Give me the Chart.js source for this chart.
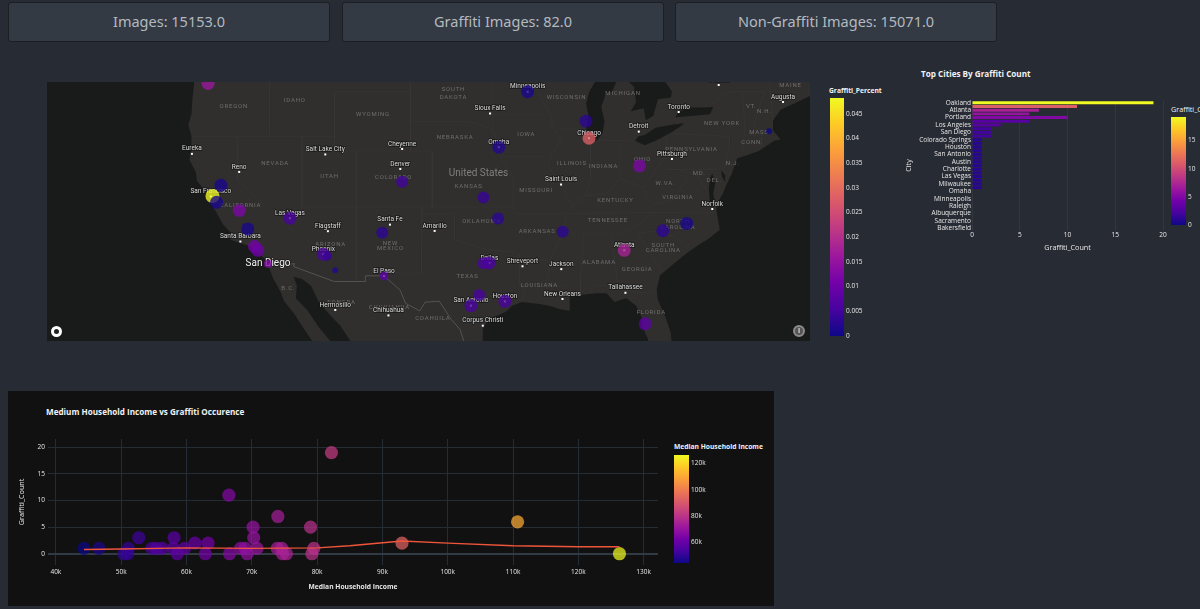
<!DOCTYPE html>
<html>
<head>
<meta charset="utf-8">
<script src="https://cdn.jsdelivr.net/npm/chart.js@4/dist/chart.umd.min.js"></script>
<style>
  html, body { margin: 0; height: 100%; overflow: hidden; background: #272b34; }
  body { position: relative; width: 1200px; height: 609px; font-family: "Open Sans", sans-serif; }
  canvas { position: absolute; display: block; }
  .card { position: absolute; top: 2px; height: 38px; background: #333a44; border: 1px solid #1b1e23; border-radius: 3px; box-sizing: content-box; color: #b4b9c0; font: 14.5px/37px "Noto Sans", sans-serif; text-align: center; }
  .title { position: absolute; color: #f2f2f2; font-weight: 700; font-size: 8.15px; white-space: nowrap; line-height: 12px; }
  .small { font-size: 6.7px; }
  .panel { position: absolute; left: 8px; top: 391px; width: 766px; height: 215px; background: #111111; }
  .logo { position: absolute; left: 51px; top: 326px; width: 5px; height: 5px; border: 3px solid #fff; border-radius: 50%; background: #222; }
  .info { position: absolute; left: 793px; top: 325px; width: 8px; height: 8px; border: 2px solid #8c8c8c; border-radius: 50%; background: #555; color: #ddd; font: 700 7px/8px "Open Sans", sans-serif; text-align: center; }
</style>
</head>
<body>
  <div class="card" style="left:8px;width:320px">Images: 15153.0</div>
  <div class="card" style="left:342px;width:320px">Graffiti Images: 82.0</div>
  <div class="card" style="left:675px;width:320px">Non-Graffiti Images: 15071.0</div>

  <canvas id="map" style="left:47px;top:82px" width="763" height="259"></canvas>
  <div class="logo"></div>
  <div class="info">i</div>
  <div class="title small" style="left:829px;top:85px">Graffiti_Percent</div>
  <canvas id="mapScale" style="left:830px;top:92px" width="70" height="252"></canvas>

  <div class="title" style="left:921px;top:68px">Top Cities By Graffiti Count</div>
  <canvas id="bars" style="left:900px;top:92px" width="270" height="165"></canvas>
  <div class="title small" style="left:1171px;top:103px;font-weight:400;font-size:7.2px">Graffiti_Count</div>
  <canvas id="barScale" style="left:1171px;top:111px" width="29" height="120"></canvas>

  <div class="panel"></div>
  <div class="title" style="left:46px;top:406px">Medium Household Income vs Graffiti Occurence</div>
  <canvas id="scatter" style="left:8px;top:430px" width="660" height="165"></canvas>
  <div class="title small" style="left:674px;top:441px">Median Household Income</div>
  <canvas id="incomeScale" style="left:674px;top:449px" width="60" height="120"></canvas>

<script>
// ---- data ----
const cityNames = ['Portland', 'Sacramento', 'Oakland', 'San Jose', 'Fresno', 'Bakersfield', 'Los Angeles', 'Long Beach', 'San Diego', 'Las Vegas', 'Phoenix', 'Mesa', 'Tucson', 'Albuquerque', 'El Paso', 'Colorado Springs', 'Omaha', 'Minneapolis', 'Milwaukee', 'Chicago', 'Columbus', 'Boston', 'Wichita', 'Tulsa', 'Memphis', 'Atlanta', 'Charlotte', 'Raleigh', 'Fort Worth', 'Dallas', 'Austin', 'San Antonio', 'Houston', 'Tampa'];
const cityLon = [-122.67, -121.49, -122.27, -121.89, -119.79, -119.02, -118.4, -118.1, -117.16, -115.14, -112.07, -111.7, -110.97, -106.65, -106.49, -104.82, -95.93, -93.27, -87.91, -87.63, -82.99, -71.06, -97.34, -95.99, -90.05, -84.39, -80.84, -78.64, -97.33, -96.8, -97.74, -98.49, -95.37, -82.46];
const cityLat = [45.52, 38.58, 37.8, 37.34, 36.74, 35.37, 34.05, 33.75, 32.72, 36.17, 33.45, 33.3, 32.22, 35.08, 31.76, 38.83, 41.26, 44.98, 43.04, 41.88, 39.96, 42.36, 37.69, 36.15, 35.15, 33.75, 35.23, 35.78, 32.75, 32.78, 30.27, 29.42, 29.76, 27.95];
const cityPercent = [0.016, 0.001, 0.048, 0.001, 0.012, 0.001, 0.011, 0.01, 0.013, 0.006, 0.006, 0.004, 0.002, 0.003, 0.008, 0.005, 0.002, 0.001, 0.003, 0.028, 0.012, 0, 0.004, 0.003, 0.003, 0.018, 0.003, 0.001, 0.006, 0.006, 0.006, 0.006, 0.006, 0.008];
const citySize = [42, 42, 49, 42, 42, 42, 42, 42, 16, 42, 42, 20, 9, 36, 20, 36, 42, 42, 42, 42, 42, 9, 36, 36, 36, 42, 42, 42, 36, 42, 36, 42, 42, 42];
const percentTicks = [0, 0.005, 0.01, 0.015, 0.02, 0.025, 0.03, 0.035, 0.04, 0.045];

const barCities = ['Oakland', 'Chicago', 'Atlanta', 'Columbus', 'Portland', 'Long Beach', 'Los Angeles', 'Fresno', 'San Diego', 'Fort Worth', 'Colorado Springs', 'Phoenix', 'Houston', 'Dallas', 'San Antonio', 'Tampa', 'Austin', 'Memphis', 'Charlotte', 'Tulsa', 'Las Vegas', 'El Paso', 'Milwaukee', 'Wichita', 'Omaha', 'Tucson', 'Minneapolis', 'Mesa', 'Raleigh', 'Boston', 'Albuquerque', 'San Jose', 'Sacramento', 'Santa Ana', 'Bakersfield'];
const barCounts = [19, 11, 7, 6, 5, 3, 3, 2, 2, 2, 1, 1, 1, 1, 1, 1, 1, 1, 1, 1, 1, 1, 1, 1, 0, 0, 0, 0, 0, 0, 0, 0, 0, 0, 0];
const barExtra = [0, 0, 0, 0, 5, 3, 0, 0, 0, 0, 0, 0, 0, 0, 0, 0, 0, 0, 0, 0, 0, 0, 0, 0, 0, 0, 0, 0, 0, 0, 0, 0, 0, 0, 0];
const barTicks = [0, 5, 10, 15, 20];
const barScaleTicks = [0, 5, 10, 15];

const income = [44300, 46600, 50400, 51000, 51100, 52700, 54700, 55400, 56300, 58100, 58000, 58600, 59700, 61300, 62900, 63300, 66500, 66600, 68300, 69000, 69300, 70200, 70300, 70800, 74000, 73900, 74600, 74700, 75300, 79000, 79500, 79200, 82200, 93000, 110700, 126300];
const graffitiCount = [1, 1, 0, 0, 1, 3, 1, 1, 1, 3, 1, 0, 1, 2, 0, 2, 11, 0, 1, 1, 0, 5, 3, 1, 7, 1, 1, 0, 0, 5, 1, 0, 19, 2, 6, 0];
const trendIncome = [44300, 50000, 60000, 70000, 80000, 85000, 93000, 100000, 110000, 120000, 126300];
const trendCount = [0.8, 0.9, 1.1, 1, 1.1, 1.5, 2.4, 2, 1.5, 1.3, 1.3];
const incomeTicks = [40000, 50000, 60000, 70000, 80000, 90000, 100000, 110000, 120000, 130000];
const countTicks = [0, 5, 10, 15, 20];
const incomeScaleTicks = [60000, 80000, 100000, 120000];

const plasma = ['#0d0887', '#46039f', '#7201a8', '#9c179e', '#bd3786', '#d8576b', '#ed7953', '#fb9f3a', '#fdca26', '#f0f921'];

// map base, lon/lat pairs
const coast = [[-124, 47], [-123.96, 45.5], [-124.1, 44.6], [-124.2, 43.5], [-124.5, 42.8], [-124.2, 42], [-124.2, 41], [-124.4, 40.4], [-123.8, 39.5], [-123.7, 38.9], [-123, 38.2], [-122.5, 37.7], [-122.4, 37.2], [-121.9, 36.6], [-121.3, 35.7], [-120.6, 35.1], [-120.6, 34.55], [-119.3, 34.2], [-118.5, 34], [-118.4, 33.75], [-117.3, 33], [-117.1, 32.5], [-116.7, 31.6], [-116, 30.5], [-115.7, 29.8], [-114.7, 28.7], [-114.2, 28], [-113, 26.4], [-113, 25], [-97.5, 25], [-97.4, 26.5], [-97.4, 27.5], [-96.9, 28.3], [-95.3, 28.9], [-94.7, 29.4], [-93.8, 29.7], [-92.2, 29.55], [-91.3, 29.4], [-90.2, 29.1], [-89.4, 29], [-89.4, 30.2], [-88, 30.3], [-87, 30.4], [-86, 30.4], [-85.3, 29.7], [-84.2, 30], [-83.3, 29.4], [-82.8, 28.5], [-82.7, 27.7], [-82.2, 26.7], [-82.1, 26], [-80, 26], [-80.1, 27.2], [-80.6, 28.5], [-81.3, 29.9], [-81.4, 30.7], [-81.1, 31.8], [-80, 32.6], [-79, 33.3], [-78, 33.9], [-76.5, 34.7], [-75.6, 35.3], [-75.9, 36.7], [-75.9, 37.2], [-75.3, 38], [-75, 38.6], [-74.5, 39.4], [-74, 40.5], [-73.5, 40.6], [-72, 41], [-71, 41.5], [-70.6, 41.7], [-70, 41.8], [-70.7, 42.4], [-70.7, 43.1], [-70, 43.8], [-68.5, 44.3], [-67.3, 44.7], [-66, 45], [-66, 47]];
const waters = [
  [[-114.8, 31.7], [-114.5, 31], [-114.6, 30], [-113.5, 29], [-112.5, 27.7], [-111.2, 26.3], [-109.4, 26.3], [-110.5, 27.8], [-111.5, 28.7], [-112.5, 29.7], [-113.2, 31], [-114, 31.5]],
  [[-87.5, 41.65], [-86.9, 41.7], [-86.4, 42.2], [-86.2, 43], [-86.5, 44], [-86.1, 44.8], [-85.5, 45], [-85, 45.8], [-86, 46], [-87, 45.7], [-87.6, 45], [-87.9, 44.2], [-87.7, 43.5], [-87.9, 42.5], [-87.6, 41.9]],
  [[-84.5, 46], [-83.5, 45.3], [-83.3, 44.3], [-83.8, 43.7], [-82.6, 43.9], [-82.4, 43.1], [-81.7, 43.4], [-81.3, 44.5], [-80.1, 44.6], [-80, 45], [-81, 46]],
  [[-83.4, 41.7], [-82.5, 41.4], [-81.5, 41.7], [-80, 42.3], [-79, 42.8], [-78.9, 42.9], [-80, 42.8], [-81.5, 42.6], [-82.5, 42.1], [-83.1, 42]],
  [[-79.7, 43.3], [-78, 43.4], [-76.5, 43.5], [-76.2, 44], [-77, 43.95], [-78.5, 43.95], [-79.4, 43.65]],
  [[-76.3, 39.4], [-76, 38.8], [-76.2, 38], [-76, 37.1], [-76.5, 37.2], [-76.6, 38.3], [-76.5, 39.1]],
  [[-75.5, 39.7], [-75.1, 39.3], [-75.1, 38.8], [-75.4, 39.2]]
];
const stateLines = [
  [[-124.2, 42], [-111.05, 42]], [[-120, 42], [-120, 39], [-114.63, 35]], [[-117.03, 46], [-117.03, 42]],
  [[-114.04, 42], [-114.04, 37]], [[-114.04, 37], [-94.62, 37]], [[-109.05, 41], [-109.05, 31.33]],
  [[-111.05, 45], [-111.05, 41], [-102.05, 41]], [[-104.05, 46], [-104.05, 41]], [[-102.05, 41], [-102.05, 37]],
  [[-104.05, 45], [-111.05, 45]], [[-104.05, 43], [-98.5, 43], [-96.5, 42.5]], [[-104.05, 45.94], [-96.56, 45.94]],
  [[-103, 37], [-103.04, 32], [-106.6, 32]], [[-100, 36.5], [-100, 34.56]], [[-103, 36.5], [-100, 36.5]],
  [[-100, 34.56], [-97, 33.8], [-94.5, 33.6]], [[-94.04, 33.55], [-94.04, 31], [-93.5, 31], [-93.8, 29.7]],
  [[-94.62, 36.5], [-94.62, 39.1], [-95.3, 40], [-95.8, 40.6], [-96, 41.5], [-96.5, 42.5], [-96.5, 46]],
  [[-94.62, 36.5], [-89.7, 36.5]], [[-91.7, 43.5], [-96.5, 43.5]], [[-95.8, 40.6], [-91.7, 40.6]],
  [[-92.8, 45.5], [-91.2, 43.5], [-91, 42.7], [-90.2, 41.8], [-91.1, 40.7], [-91.4, 39.9], [-90.2, 38.7], [-89.2, 37], [-89.7, 36.5], [-90.1, 35], [-91.2, 33], [-91.6, 31], [-89.7, 31]],
  [[-94.04, 33], [-91.2, 33]], [[-90.1, 35], [-84.3, 35], [-81.7, 36.6], [-75.9, 36.55]], [[-89.5, 36.5], [-81.7, 36.6]],
  [[-88.1, 35], [-88.4, 31.9], [-88.4, 30.3]], [[-85.6, 35], [-85.1, 32], [-85, 31], [-87.6, 31], [-87.4, 30.4]],
  [[-85, 31], [-84.9, 30.7], [-82.2, 30.4], [-81.5, 30.7]], [[-83.1, 35], [-81, 32.2]], [[-83.1, 35], [-82, 35.2], [-81, 35.1], [-79.7, 34.8], [-78.6, 33.9]],
  [[-89.2, 37], [-88, 37.8], [-86, 38], [-84.8, 39.1], [-82.6, 38.4], [-80.6, 40.6], [-80.5, 42]], [[-87.5, 41.7], [-87.5, 39], [-88, 37.8]],
  [[-84.8, 39.1], [-84.8, 41.7]], [[-87.5, 41.75], [-83.5, 41.7]], [[-90.6, 42.5], [-87.8, 42.5]], [[-80.5, 39.7], [-75.8, 39.7], [-75.5, 39.8]],
  [[-79.8, 42.2], [-74.7, 42], [-74.7, 41.4], [-75.1, 40], [-75.5, 39.5]], [[-73.5, 45], [-73.3, 42.7], [-73.5, 41.1]], [[-71.5, 45], [-72.5, 42.7]],
  [[-73.3, 42.05], [-71.4, 42.05]], [[-71, 45.3], [-70.7, 43.1]], [[-71.8, 42], [-71.8, 41.3]], [[-80.5, 39.7], [-79.5, 39.7], [-77.7, 39.3], [-76.9, 38.3]],
  [[-82.6, 38.2], [-81.7, 37.2], [-80, 37.5], [-78.4, 39.2]], [[-76.3, 44.2], [-74.7, 45], [-71.5, 45], [-70.3, 46]]
];
const mexicoBorder = [[-117.12, 32.53], [-114.72, 32.72], [-114.81, 32.5], [-111.07, 31.33], [-108.2, 31.33], [-108.2, 31.78], [-106.5, 31.78], [-105, 30.65], [-104.5, 29.6], [-103.2, 29], [-102.7, 29.7], [-101.4, 29.77], [-100.3, 28.3], [-99.5, 27.5], [-99.1, 26.4], [-97.2, 25.95]];

const placeNames = ['Eureka', 'Reno', 'Salt Lake City', 'Cheyenne', 'Denver', 'Sioux Falls', 'Minneapolis', 'Omaha', 'Chicago', 'Detroit', 'Toronto', 'Ottawa', 'Augusta', 'Pittsburgh', 'Saint Louis', 'San Francisco', 'Santa Barbara', 'Las Vegas', 'Flagstaff', 'Santa Fe', 'Phoenix', 'El Paso', 'Hermosillo', 'Chihuahua', 'Amarillo', 'Norfolk', 'Atlanta', 'Dallas', 'Shreveport', 'Jackson', 'Houston', 'San Antonio', 'New Orleans', 'Tallahassee', 'Corpus Christi'];
const placeLon = [-124.16, -119.81, -111.89, -104.82, -104.99, -96.73, -93.27, -95.93, -87.63, -83.05, -79.38, -75.7, -69.78, -80, -90.2, -122.42, -119.7, -115.14, -111.65, -105.94, -112.07, -106.49, -110.97, -106.08, -101.83, -76.29, -84.39, -96.8, -93.75, -90.18, -95.37, -98.49, -90.07, -84.28, -97.4];
const placeLat = [40.8, 39.53, 40.76, 41.14, 39.74, 43.55, 44.98, 41.26, 41.88, 42.33, 43.65, 45.42, 44.31, 40.44, 38.63, 37.77, 34.42, 36.17, 35.2, 35.69, 33.45, 31.76, 29.07, 28.63, 35.22, 36.85, 33.75, 32.78, 32.52, 32.3, 29.76, 29.42, 29.95, 30.44, 27.8];

const regionNames = ['OREGON', 'IDAHO', 'WYOMING', 'NEVADA', 'UTAH', 'COLORADO', 'CALIFORNIA', 'ARIZONA', 'NEW', 'MEXICO', 'SOUTH', 'DAKOTA', 'NEBRASKA', 'IOWA', 'KANSAS', 'MISSOURI', 'ILLINOIS', 'INDIANA', 'OHIO', 'WISCONSIN', 'MICHIGAN', 'NEW YORK', 'PENNSYLVANIA', 'W.VA.', 'VIRGINIA', 'KENTUCKY', 'TENNESSEE', 'NORTH', 'CAROLINA', 'SOUTH', 'CAROLINA', 'GEORGIA', 'ALABAMA', 'LOUISIANA', 'ARKANSAS', 'OKLAHOMA', 'TEXAS', 'FLORIDA', 'MD.', 'DEL.', 'N.J.', 'CONN.', 'MASS', 'N.H.', 'VT.', 'MAINE', 'SONORA', 'CHIHUAHUA', 'COAHUILA', 'B.C.'];
const regionLon = [-120.3, -114.7, -107.5, -116.5, -111.5, -105.6, -119.7, -111.4, -105.9, -105.9, -100.1, -100.1, -99.95, -93.4, -98.7, -92.5, -89.2, -86.3, -82.7, -89.7, -84.5, -75.4, -78.2, -80.6, -79.45, -85.2, -85.9, -79.45, -79.45, -80.8, -80.8, -83.2, -86.7, -92.2, -92.4, -97.5, -98.8, -81.9, -77.5, -76.1, -74.4, -72.6, -72, -71.5, -72.7, -69.1, -110.4, -106, -102, -115.3];
const regionLat = [44, 44.4, 43.5, 40.1, 39.2, 39.1, 37.1, 34.2, 34.3, 33.9, 45.1, 44.6, 41.9, 42.1, 38.5, 38.2, 40.1, 39.9, 40.4, 44.6, 44.9, 42.9, 41.1, 38.7, 37.7, 37.5, 36, 35.9, 35.5, 34.15, 33.7, 32.3, 32.85, 31, 35.15, 35.9, 31.75, 28.9, 39.4, 38.9, 40.1, 41.6, 42.3, 43.7, 44, 45.4, 29.7, 29.25, 28.4, 30.8];

// ---- helpers ----
Chart.defaults.animation = false;
Chart.defaults.responsive = false;
Chart.defaults.layout.autoPadding = false;
Chart.defaults.font.family = '"Open Sans", sans-serif';
Chart.defaults.font.size = 6.5;
Chart.defaults.color = '#e8e8e8';
Chart.defaults.plugins.legend.display = false;
Chart.defaults.plugins.tooltip.enabled = false;

const merc = (lat) => Math.log(Math.tan(Math.PI / 4 + (lat * Math.PI) / 360)) * (180 / Math.PI);
const toXY = (pairs) => pairs.map(([lon, lat]) => ({ x: lon, y: merc(lat) }));

function hexRgb(hex) {
  return [1, 3, 5].map((i) => parseInt(hex.slice(i, i + 2), 16));
}

function plasmaColor(t, alpha = 1) {
  const pos = Math.min(Math.max(t, 0), 1) * (plasma.length - 1);
  const i = Math.min(Math.floor(pos), plasma.length - 2);
  const a = hexRgb(plasma[i]);
  const b = hexRgb(plasma[i + 1]);
  const c = a.map((v, k) => Math.round(v + (b[k] - v) * (pos - i)));
  return `rgba(${c[0]},${c[1]},${c[2]},${alpha})`;
}

const fitWidth = (w) => (scale) => { scale.width = w; };
const fitHeight = (h) => (scale) => { scale.height = h; };
const useTicks = (values) => (scale) => { scale.ticks = values.map((value) => ({ value })); };

function colorbar(id, min, max, tickValues, barWidth, padTop, padBottom, fmt) {
  new Chart(document.getElementById(id), {
    type: 'bar',
    data: {
      labels: [''],
      datasets: [{
        data: [[min, max]],
        barPercentage: 1,
        categoryPercentage: 1,
        backgroundColor(ctx) {
          const area = ctx.chart.chartArea;
          if (!area) return plasma[0];
          const g = ctx.chart.ctx.createLinearGradient(0, area.bottom, 0, area.top);
          plasma.forEach((c, i) => g.addColorStop(i / (plasma.length - 1), c));
          return g;
        },
      }],
    },
    options: {
      layout: { padding: { top: padTop, bottom: padBottom, left: 0, right: 0 } },
      scales: {
        x: { display: false },
        y: {
          position: 'right',
          min,
          max,
          afterBuildTicks: useTicks(tickValues),
          afterFit: fitWidth(document.getElementById(id).width - barWidth),
          grid: { display: false, drawTicks: false },
          border: { display: false },
          ticks: { padding: 2, callback: fmt },
        },
      },
    },
  });
}

// ---- map ----
const mapLabels = {
  id: 'mapLabels',
  afterDatasetDraw(chart, args) {
    if (args.meta.label !== 'mexico') return;
    const { ctx, scales } = chart;
    ctx.save();
    ctx.textAlign = 'center';
    ctx.textBaseline = 'middle';

    ctx.font = '6px "Roboto", sans-serif';
    ctx.letterSpacing = '0.8px';
    ctx.fillStyle = '#6f6e6d';
    regionNames.forEach((name, i) => {
      ctx.fillText(name, scales.x.getPixelForValue(regionLon[i]), scales.y.getPixelForValue(merc(regionLat[i])));
    });
    ctx.letterSpacing = '0px';

    ctx.font = '10px "Roboto", sans-serif';
    ctx.fillStyle = '#7f7f7f';
    ctx.fillText('United States', scales.x.getPixelForValue(-97.8), scales.y.getPixelForValue(merc(39.4)));

    ctx.font = '6.5px "Roboto", sans-serif';
    ctx.lineWidth = 1.5;
    ctx.strokeStyle = 'rgba(20,20,20,0.8)';
    placeNames.forEach((name, i) => {
      const x = scales.x.getPixelForValue(placeLon[i]);
      const y = scales.y.getPixelForValue(merc(placeLat[i]));
      ctx.fillStyle = '#fff';
      ctx.fillRect(x - 1, y - 1, 2, 2);
      ctx.strokeText(name, x, y - 5);
      ctx.fillStyle = '#dcdcdc';
      ctx.fillText(name, x, y - 5);
    });

    ctx.font = '10px "Roboto", sans-serif';
    ctx.fillStyle = '#f2f2f2';
    ctx.strokeText('San Diego', scales.x.getPixelForValue(-117.16), scales.y.getPixelForValue(merc(32.72)));
    ctx.fillText('San Diego', scales.x.getPixelForValue(-117.16), scales.y.getPixelForValue(merc(32.72)));
    ctx.restore();
  },
};

const polygon = (label, pairs, color, order) => ({
  label,
  data: toXY(pairs),
  showLine: true,
  fill: 'shape',
  backgroundColor: color,
  borderWidth: 0,
  pointRadius: 0,
  order,
});
const polyline = (label, pairs, color, width, order) => ({
  label,
  data: toXY(pairs),
  showLine: true,
  fill: false,
  borderColor: color,
  borderWidth: width,
  pointRadius: 0,
  order,
});

new Chart(document.getElementById('map'), {
  type: 'scatter',
  data: {
    datasets: [
      {
        label: 'Graffiti_Percent',
        data: cityNames.map((name, i) => ({ x: cityLon[i], y: merc(cityLat[i]) })),
        pointRadius: citySize.map(Math.sqrt),
        backgroundColor: cityPercent.map((v) => plasmaColor(v / 0.048, 0.78)),
        borderWidth: 0,
        order: 0,
      },
      polyline('mexico', mexicoBorder, '#5d5c5b', 0.8, 1),
      ...stateLines.map((line, i) => polyline('state' + i, line, '#393837', 0.5, 2)),
      ...waters.map((shape, i) => polygon('water' + i, shape, '#191a1a', 3)),
      polygon('land', coast, '#302f2e', 4),
    ],
  },
  options: {
    scales: {
      x: { display: false, min: -137.49, max: -67.3 },
      y: { display: false, min: 27.55, max: 51.37 },
    },
  },
  plugins: [mapLabels, {
    id: 'ocean',
    beforeDraw(chart) {
      const { ctx, width, height } = chart;
      ctx.fillStyle = '#191a1a';
      ctx.fillRect(0, 0, width, height);
    },
  }],
});

colorbar('mapScale', 0, 0.0482, percentTicks, 14, 5, 8, (v) => +v.toFixed(3));

// ---- top cities bars ----
const barColor = (ctx) => plasmaColor(ctx.raw / 19);

new Chart(document.getElementById('bars'), {
  type: 'bar',
  data: {
    labels: barCities,
    datasets: [
      { data: barCounts, backgroundColor: barColor, barPercentage: 0.8, categoryPercentage: 1 },
      { data: barExtra, backgroundColor: barColor, barPercentage: 0.8, categoryPercentage: 1 },
    ],
  },
  options: {
    indexAxis: 'y',
    layout: { padding: { top: 9, left: 5, right: 7, bottom: 0 } },
    scales: {
      x: {
        stacked: true,
        min: 0,
        max: 20,
        afterBuildTicks: useTicks(barTicks),
        afterFit: fitHeight(27),
        grid: { color: 'rgba(120,130,145,0.14)', drawTicks: false },
        border: { display: false },
        ticks: { padding: 1, maxRotation: 0 },
        title: { display: true, text: 'Graffiti_Count', font: { size: 7.2 }, padding: { top: 0, bottom: 5 } },
      },
      y: {
        stacked: true,
        afterFit: fitWidth(67),
        grid: { display: false, drawTicks: false },
        border: { display: false },
        ticks: {
          autoSkip: false,
          padding: 1,
          callback(v, i) { return i % 2 === 0 ? barCities[i] : ''; },
        },
        title: { display: true, text: 'City', font: { size: 7.2 }, padding: 0 },
      },
    },
  },
});

colorbar('barScale', 0, 19.2, barScaleTicks, 15, 5, 6, (v) => v);

// ---- income scatter ----
const incomeMin = 44500;
const incomeMax = 126500;

new Chart(document.getElementById('scatter'), {
  type: 'scatter',
  data: {
    datasets: [
      {
        type: 'line',
        data: trendIncome.map((v, i) => ({ x: v, y: trendCount[i] })),
        borderColor: '#ef553b',
        borderWidth: 1.4,
        pointRadius: 0,
        order: 0,
      },
      {
        data: income.map((v, i) => ({ x: v, y: graffitiCount[i] })),
        pointRadius: 6.6,
        borderWidth: 0,
        backgroundColor: income.map((v) => plasmaColor((v - incomeMin) / (incomeMax - incomeMin), 0.72)),
        order: 1,
      },
    ],
  },
  options: {
    layout: { padding: { left: 10, top: 9, right: 10, bottom: 0 } },
    scales: {
      x: {
        type: 'linear',
        min: 38800,
        max: 132200,
        afterBuildTicks: useTicks(incomeTicks),
        afterFit: fitHeight(30),
        grid: { color: '#262c36', drawTicks: false },
        border: { display: false },
        ticks: { padding: 3, maxRotation: 0, callback: (v) => v / 1000 + 'k' },
        title: { display: true, text: 'Median Household Income', font: { size: 6.7, weight: '700' }, padding: { top: 0, bottom: 4 } },
      },
      y: {
        min: -2.12,
        max: 21.56,
        afterBuildTicks: useTicks(countTicks),
        afterFit: fitWidth(30),
        grid: {
          drawTicks: false,
          color: (ctx) => (ctx.tick.value === 0 ? '#323b45' : '#262c36'),
          lineWidth: (ctx) => (ctx.tick.value === 0 ? 2 : 1),
        },
        border: { display: false },
        ticks: { padding: 3 },
        title: { display: true, text: 'Graffiti_Count', font: { size: 7.2 }, padding: 0 },
      },
    },
  },
});

colorbar('incomeScale', incomeMin, incomeMax, incomeScaleTicks, 15, 4, 6, (v) => v / 1000 + 'k');
</script>
</body>
</html>
